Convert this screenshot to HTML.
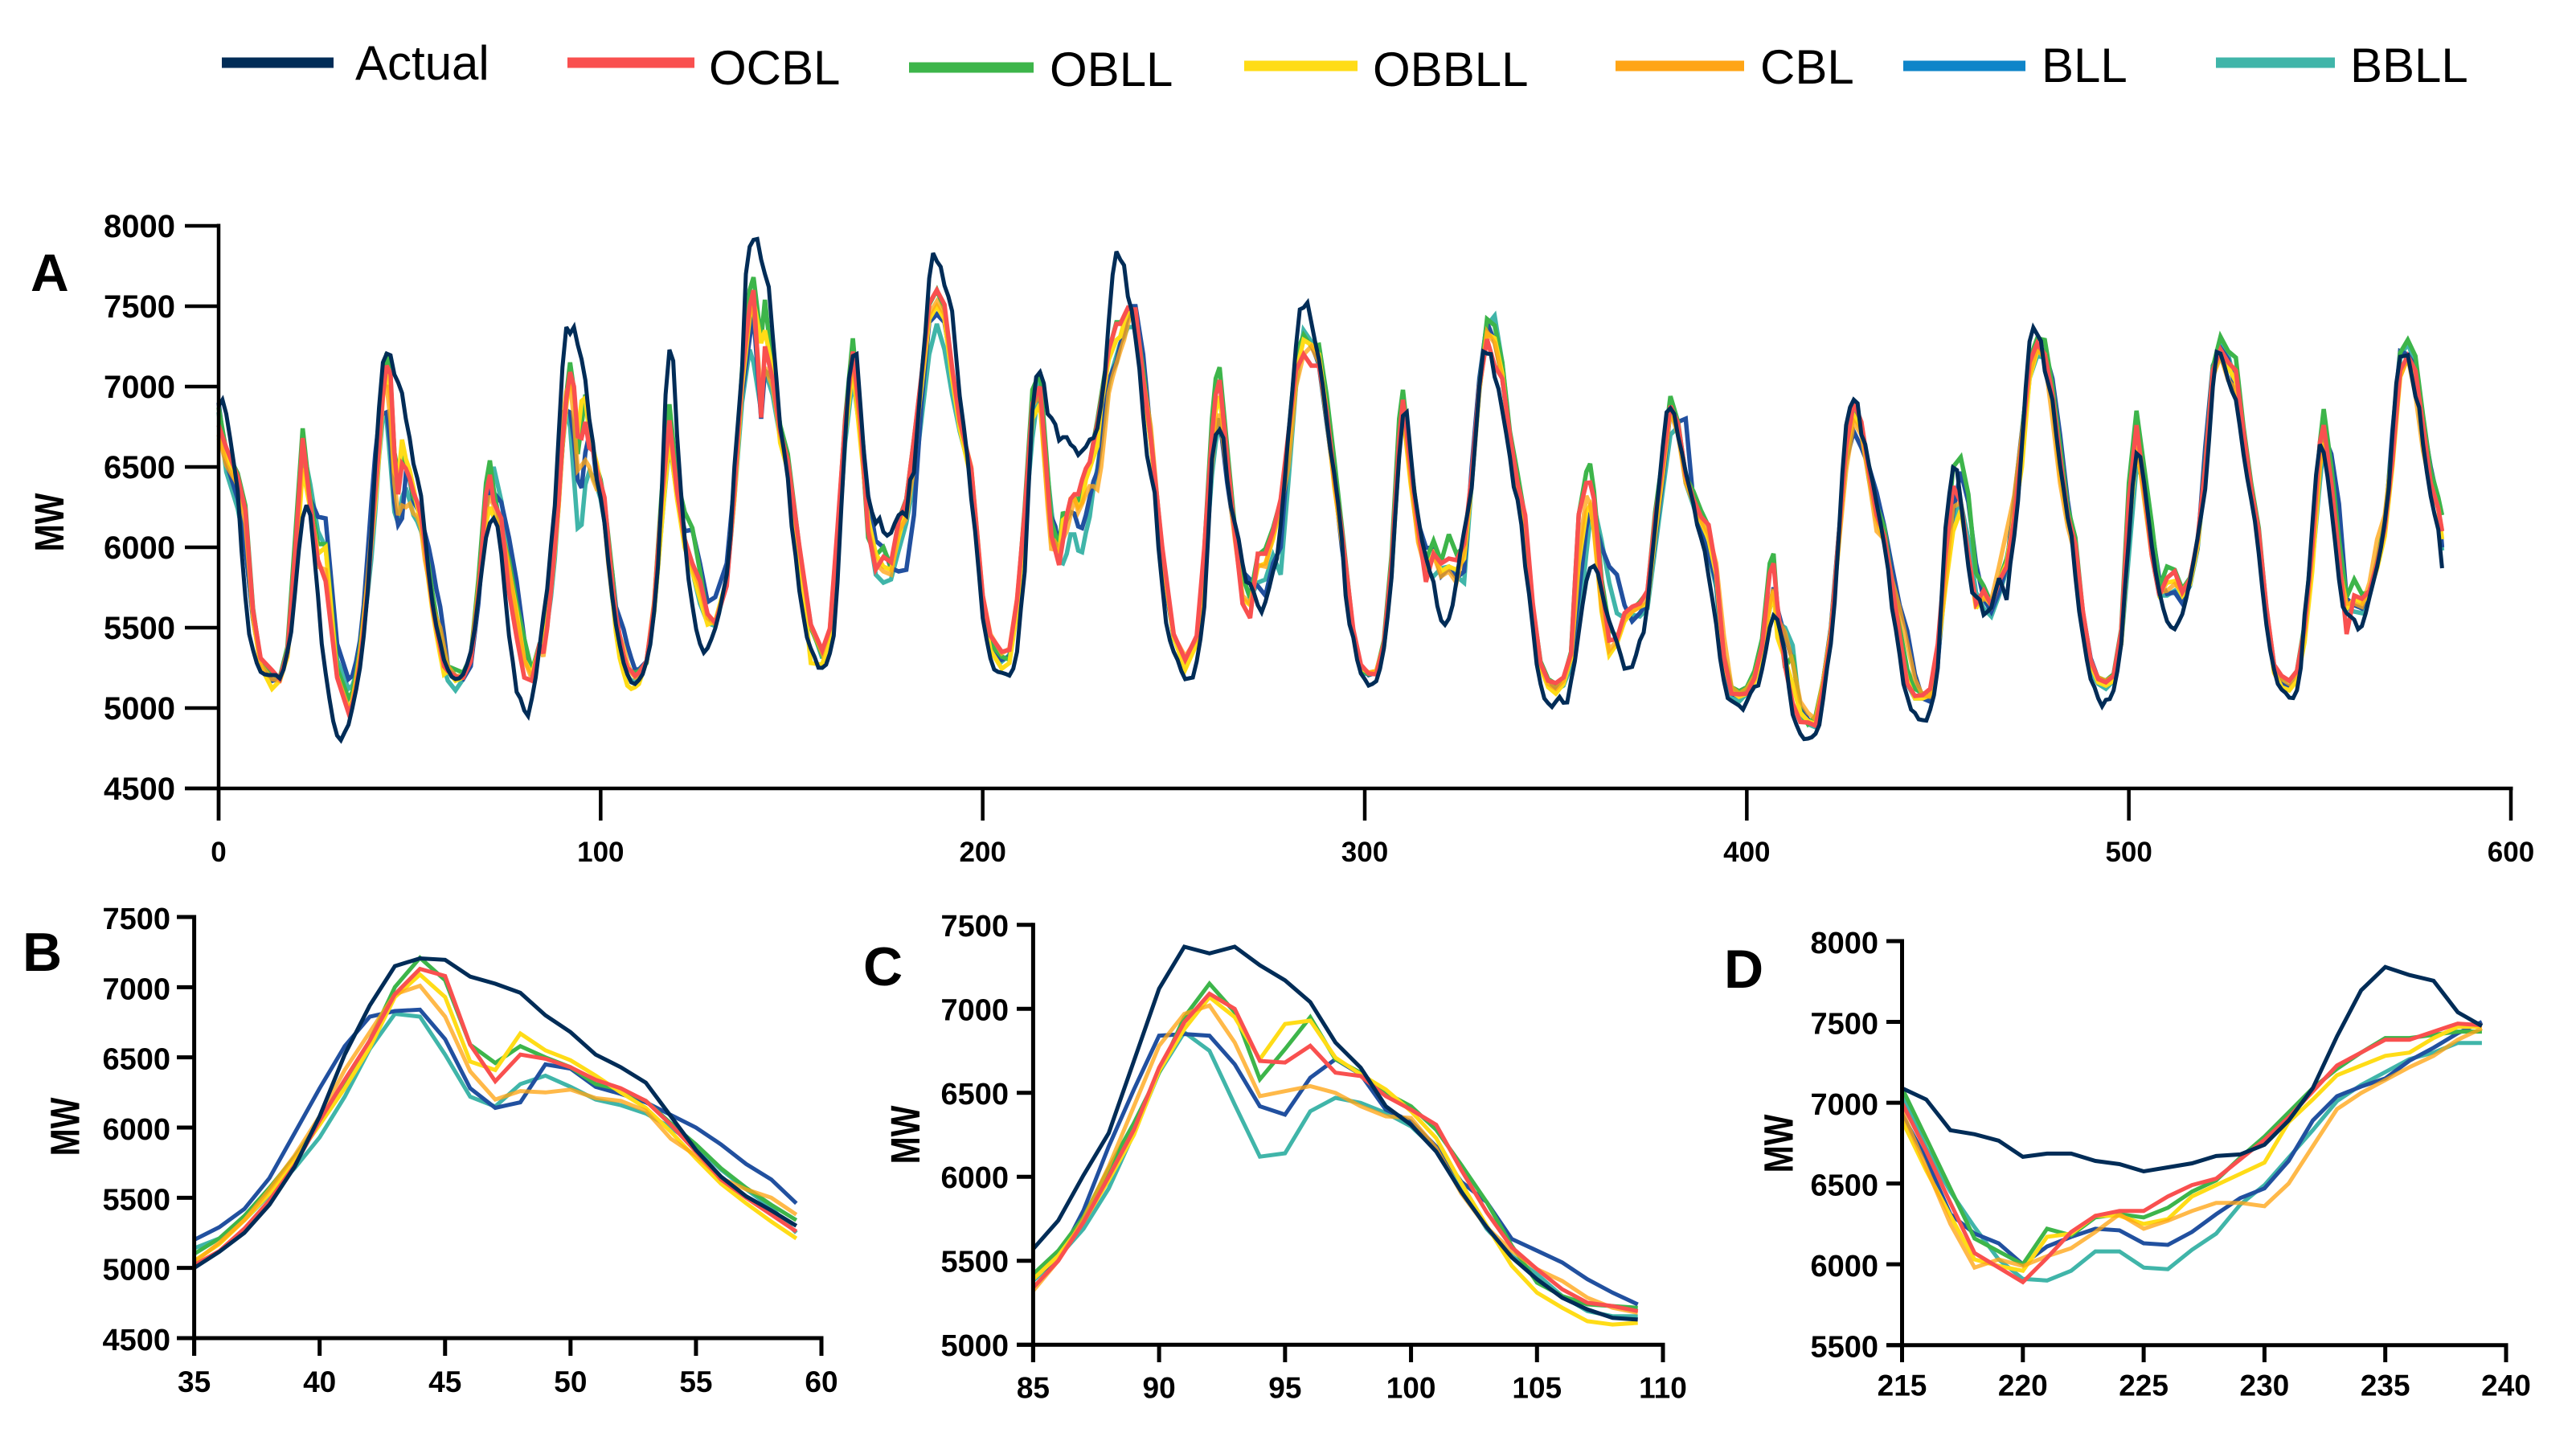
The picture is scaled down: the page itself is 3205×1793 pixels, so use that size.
<!DOCTYPE html>
<html lang="en">
<head>
<meta charset="utf-8">
<title>Load forecast comparison</title>
<style>
html,body{margin:0;padding:0;background:#fff;}
svg{display:block;font-family:"Liberation Sans",sans-serif;}
</style>
</head>
<body>
<svg id="chart" xmlns="http://www.w3.org/2000/svg" width="3205" height="1793" viewBox="0 0 3205 1793">
<rect x="0" y="0" width="3205" height="1793" fill="#ffffff"/>
<g>
<rect x="276" y="71.5" width="139" height="13" fill="#002c57"/>
<text x="442" y="99" font-size="60" fill="#000">Actual</text>
<rect x="706" y="71.5" width="158" height="13" fill="#f9504f"/>
<text x="882" y="105" font-size="60" fill="#000">OCBL</text>
<rect x="1131" y="77.5" width="155" height="13" fill="#3db54a"/>
<text x="1306" y="107" font-size="60" fill="#000">OBLL</text>
<rect x="1548" y="75.5" width="141" height="13" fill="#ffdc17"/>
<text x="1708" y="107" font-size="60" fill="#000">OBBLL</text>
<rect x="2010" y="75.5" width="160" height="13" fill="#ffa516"/>
<text x="2190" y="104" font-size="60" fill="#000">CBL</text>
<rect x="2368" y="75.5" width="152" height="13" fill="#0f85c9"/>
<text x="2540" y="102" font-size="60" fill="#000">BLL</text>
<rect x="2757" y="71.5" width="148" height="13" fill="#40b5a9"/>
<text x="2924" y="102" font-size="60" fill="#000">BBLL</text>
</g>
<text x="38" y="362" font-size="66" font-weight="bold" fill="#000">A</text>
<text x="28" y="1208" font-size="68" font-weight="bold" fill="#000">B</text>
<text x="1074" y="1226" font-size="68" font-weight="bold" fill="#000">C</text>
<text x="2145" y="1229" font-size="68" font-weight="bold" fill="#000">D</text>
</svg>
<script>
// ---------- Panel B values (index 35-59) ----------
const actualB=[5000,5115,5250,5450,5720,6080,6520,6870,7150,7205,7195,7075,7025,6960,6800,6680,6520,6430,6320,6080,5840,5650,5510,5410,5300];
const redB=[5020,5120,5280,5480,5730,6050,6340,6620,6950,7130,7080,6590,6330,6520,6490,6430,6340,6280,6190,6020,5830,5630,5500,5380,5260];
const greenB=[5100,5210,5370,5570,5790,6040,6310,6620,7000,7210,7050,6590,6460,6580,6500,6430,6310,6270,6190,6030,5880,5710,5570,5450,5340];
const yellowB=[5050,5170,5340,5530,5770,6020,6280,6570,6930,7090,6930,6470,6410,6670,6550,6480,6370,6250,6140,5970,5780,5600,5460,5330,5210];
const orangeB=[5040,5180,5340,5560,5800,6080,6410,6680,6950,7010,6790,6400,6200,6260,6250,6270,6210,6190,6120,5920,5800,5640,5560,5500,5380];
const blueB=[5200,5290,5420,5640,5960,6280,6580,6790,6830,6840,6630,6280,6140,6180,6450,6420,6290,6240,6180,6090,6000,5880,5740,5630,5460];
const tealB=[5140,5210,5340,5520,5710,5930,6220,6560,6810,6790,6520,6220,6150,6310,6370,6290,6200,6160,6100,6000,5870,5700,5560,5430,5250];
// ---------- Panel C values (index 85-109) ----------
const actualC=[5570,5740,6010,6260,6690,7120,7370,7330,7370,7260,7170,7040,6800,6650,6420,6310,6150,5910,5700,5520,5390,5280,5210,5160,5150];
const redC=[5340,5500,5730,6000,6280,6650,6920,7090,7000,6690,6680,6780,6620,6600,6480,6400,6310,6040,5790,5580,5450,5330,5250,5230,5200];
const greenC=[5420,5560,5760,6050,6320,6620,6950,7150,6980,6580,6760,6950,6700,6620,6500,6420,6280,6070,5850,5590,5370,5290,5240,5230,5220];
const yellowC=[5390,5530,5730,5980,6250,6630,6880,7070,6950,6700,6910,6930,6710,6610,6520,6390,6230,5960,5710,5470,5310,5220,5140,5120,5130];
const orangeC=[5320,5500,5750,6060,6420,6780,6970,7020,6800,6480,6510,6540,6500,6420,6360,6350,6170,5900,5700,5560,5450,5380,5280,5220,5190];
const blueC=[5400,5510,5800,6180,6520,6840,6850,6840,6670,6420,6370,6590,6700,6610,6400,6330,6180,5970,5850,5630,5560,5490,5390,5310,5240];
const tealC=[5380,5520,5690,5930,6260,6620,6860,6750,6430,6120,6140,6390,6470,6440,6380,6300,6160,5930,5690,5530,5420,5290,5200,5170,5170];
// ---------- Panel D values (index 215-239) ----------
const actualD=[7090,7020,6830,6805,6765,6665,6685,6685,6640,6620,6575,6600,6625,6670,6680,6740,6890,7090,7410,7695,7840,7790,7755,7560,7475];
const redD=[7000,6700,6380,6070,5980,5890,6040,6200,6300,6330,6330,6420,6490,6530,6650,6770,6910,7070,7230,7310,7390,7390,7440,7490,7480];
const greenD=[7090,6780,6470,6160,6080,6000,6220,6180,6290,6310,6290,6350,6450,6520,6660,6790,6940,7090,7210,7310,7400,7400,7420,7440,7440];
const yellowD=[6890,6580,6300,6030,5990,5960,6170,6190,6300,6300,6250,6280,6420,6490,6560,6630,6880,7020,7170,7230,7290,7310,7400,7470,7470];
const orangeD=[6950,6600,6250,5980,6030,5990,6050,6100,6200,6310,6220,6270,6330,6380,6380,6360,6500,6730,6960,7060,7140,7220,7290,7390,7460];
const blueD=[6930,6650,6310,6190,6130,6000,6110,6170,6220,6210,6130,6120,6200,6310,6410,6470,6640,6890,7040,7100,7150,7260,7340,7430,7500];
const tealD=[7050,6720,6450,6230,6030,5910,5900,5960,6080,6080,5980,5970,6090,6190,6370,6490,6660,6830,7010,7110,7190,7270,7310,7370,7370];
// ---------- Panel A: actual, hourly, outside the zoomed windows ----------
const actualA0=[6880,6918,6830,6680,6520,6350,5980,5690,5460,5362,5280,5225,5210,5205,5205,5205,5185,5240,5350,5473,5720,5980,6185,6262,6200,5960,5700,5400,5220,5060,4918,4829,4800,4850,4896];
const actualA1=[5240,5195,5180,5185,5210,5270,5350,5490,5680,5880,6060,6150,6180,6130,5960,5700,5450,5290,5100,5060,4985,4951,5060,5190,5380];
const actualA2=[5175,5211,5290,5396,5600,5880,6350,6950,7229,7160,6700,6350,6050,5800,5640,5490,5400,5345,5373,5430,5496,5590,5710,5830,6080,6500,6800,7100,7700,7870,7913,7918,7790,7700,7620,7330,7050,6750,6600,6430,6130,5950,5730,5580,5440,5370,5318,5251,5250,5270,5340,5450,5780,6250,6673,7050,7190,7202,6880,6560,6318,6220,6150,6180,6096,6073,6090,6150,6200,6218,6196,6420,6465,6780,7073,7340,7673,7830,7780,7745,7629,7562,7470,7200,6940,6760,6560,6300,6100,5840,5560,5430,5310,5240,5225,5220,5212,5202,5245,5350,5620,5850,6360,6850,7060];
const actualA3=[7300,7110,6820,6570,6451,6340,6000,5760,5530,5420,5350,5300,5230,5180,5185,5190,5290,5430,5629,6060,6550,6700,6730,6680,6420,6251,6150,6050,5900,5785,5773,5715,5640,5596,5660,5750,5850,5930,6140,6400,6700,6960,7250,7480,7491,7522,7400,7280,7170,7010,6800,6610,6460,6280,6051,5700,5520,5440,5300,5215,5180,5140,5150,5167,5245,5370,5570,5810,6200,6562,6818,6840,6590,6345,6190,6040,5940,5850,5785,5635,5545,5518,5555,5640,5790,5960,6100,6225,6370,6680,7000,7218,7205,7202,7060,6985,6850,6710,6562,6375,6296,6140,5880,5710,5500,5273,5150,5060,5030,5007,5040,5069,5033,5035,5170,5290,5470,5640,5790,5870,5884,5840,5730,5620,5540,5473,5410,5330,5245,5250,5256,5330,5420,5470,5640,5890,6130,6380,6629,6840,6865,6830,6690,6590,6470,6370,6273,6140,6060,5975,5820,5673,5520,5310,5170,5062,5045,5030,5015,4991,5040,5095,5132,5140,5240,5362,5500,5575,5550,5450,5345,5130,4960,4896,4840,4807,4810,4818,4840,4895,5060,5250,5400,5660,6040,6460,6760,6870,6918,6896,6700,6640,6510,6400,6270,6150,6010,5860,5620,5490,5330,5150,5070,4990,4970,4930,4925,4922,4990,5080,5250,5700,6120,6330,6496,6480,6290,6080,5880,5718,5695,5673,5580,5600,5625,5720,5807,5750,5673,5900,6070,6290,6630,6990,7280,7367,7325,7284,7096,7010,6918,6700,6510,6350,6184,6070,5820,5600,5450,5300,5180,5130,5060,5011,5051,5056,5110,5230,5400,5750,6051,6384,6584,6562,6400,6210,6010,5850,5720,5620,5540,5505,5491,5535,5584,5680,5790,5920,6060,6210,6362,6670,7000,7215,7205,7130,7040,6970,6918,6760,6580,6430,6300,6162,5960,5730,5518,5360,5240,5150,5115,5095,5065,5062,5110,5250,5580,5800,6130,6450,6640,6590,6440,6240,6030,5800,5630,5590,5570,5550,5491,5510,5590,5690,5785,5880,6000,6160,6360,6700,7020,7185,7190,7196,7073,6940,6870,6640,6470,6318,6207,6110,5870];
// ---------- Panel A: forecast sample indices outside the zoomed windows ----------
const indexA0=[0,2,5,7,9,11,14,16,18,20,22,24,26,28,31,34];
const indexA1=[60,62,64,66,68,70,71,72,74,76,78,80,82,84];
const indexA2=[110,112,114,116,118,120,122,124,126,128,130,133,135,137,139,140,142,143,145,147,149,152,155,158,160,162,164,166,168,170,172,174,176,178,180,182,184,186,188,190,192,194,197,200,202,205,207,209,211,213];
const indexA3=[240,242,244,247,250,253,256,258,260,261,262,264,266,268,270,272,274,276,278,280,282,284,286,288,290,292,294,
297,299,301,303,305,307,309,310,312,314,316,318,320,322,324,326,328,330,332,334,336,338,340,342,344,
346,348,350,352,354,356,358,359,360,362,364,366,368,370,372,374,376,378,380,382,384,386,388,390,392,394,
396,398,400,402,404,406,407,408,410,412,414,416,418,420,422,424,426,428,430,432,434,436,438,440,442,444,446,448,450,
452,454,456,458,460,462,464,466,468,470,472,474,476,478,480,482,484,486,488,490,492,494,496,498,
500,502,504,506,508,510,512,514,516,518,520,522,524,526,528,530,532,534,536,538,540,542,544,546,548,
550,551,553,555,557,559,561,563,565,567,569,571,573,575,577,579,581,582];
// ---------- Panel A: OCBL ----------
const redA0=[6760,6620,6440,6230,5607,5310,5235,5180,5350,5960,6680,6260,5920,5790,5190,4970];
const redA1=[5230,5195,5190,5290,5700,6330,6451,6280,6180,5720,5440,5190,5170,5400];
const redA2=[5220,5290,5640,6300,6790,6350,6050,5900,5790,5585,5530,5760,6340,7070,7500,7600,6807,7250,7050,6720,6540,6010,5520,5360,5495,6120,6785,7218,6785,6100,5862,5940,5907,6162,6296,6673,7073,7518,7600,7510,7118,6785,6490,5700,5450,5350,5362,5674,6229,6896];
const redA3=[7480,7050,6680,6000,5460,5300,5450,6000,6700,6950,7040,6560,6080,5650,5560,5960,5960,6100,6300,6700,7100,7200,7130,7130,6850,6450,6100,
5490,5270,5215,5210,5400,5900,6680,6918,6500,6120,5785,5960,5900,5930,5920,6020,6450,7000,7295,7130,7050,6700,6400,6200,5650,
5280,5170,5155,5190,5340,6205,6400,6403,6300,5760,5420,5430,5590,5630,5650,5730,6190,6520,6880,6770,6450,6300,6190,6140,5860,5320,
5090,5085,5090,5185,5385,5840,5900,5640,5260,5030,4913,4910,4890,5130,5450,6050,6620,6900,6780,6470,6200,6070,5780,5450,5150,5075,5080,5120,5400,
5950,6380,6280,5950,5650,5730,5640,5790,5880,6180,6650,7150,7270,7200,6950,6560,6200,6020,5600,5300,5180,5160,5200,5480,
6300,6760,6380,5950,5700,5810,5850,5720,5800,6050,6500,7100,7230,7150,7100,6720,6370,6100,5630,5270,5200,5170,5230,5500,6000,
6650,6760,6400,5950,5460,5700,5680,5730,5900,6120,6540,7100,7190,7100,6760,6400,6240,6100];
// ---------- Panel A: OBLL ----------
const greenA0=[6870,6600,6460,6260,5620,5290,5210,5190,5380,6050,6740,6300,6020,6020,5250,5060];
const greenA1=[5260,5240,5220,5320,5800,6400,6540,6360,6100,5920,5650,5430,5230,5400];
const greenA2=[5230,5280,5650,6350,6890,6420,6220,6120,5850,5560,5520,5790,6330,7100,7600,7680,7290,7540,7100,6760,6580,6000,5500,5330,5470,6080,6800,7300,6760,6060,5950,6000,5880,6170,6300,6670,7060,7510,7600,7480,7100,6770,6490,5680,5400,5320,5300,5640,6250,6980];
const greenA3=[7440,7100,6700,5980,5430,5290,5400,5980,6800,7050,7120,6620,6120,5820,5690,5950,5990,6120,6290,6680,7200,7320,7250,7260,6950,6550,6130,
5470,5240,5210,5220,5420,5950,6800,6980,6540,6150,5920,6040,5910,6080,5960,6000,6430,7000,7420,7380,7150,6720,6460,6180,5630,
5290,5180,5150,5180,5350,6200,6470,6520,6350,5800,5500,5440,5540,5610,5660,5720,6220,6560,6940,6780,6440,6350,6230,6130,5840,5330,
5130,5105,5130,5230,5430,5900,5960,5620,5250,5330,4980,4900,4950,5170,5480,6050,6550,6840,6740,6500,6260,6120,5780,5500,5240,5120,5090,5080,5330,
5960,6500,6560,6330,5840,5760,5650,5790,5930,6170,6700,7170,7300,7290,7000,6630,6250,6060,5590,5260,5190,5170,5210,5490,
6400,6850,6500,6150,5750,5880,5860,5740,5810,6020,6520,7120,7310,7220,7180,6750,6400,6120,5620,5270,5190,5170,5230,5520,6050,
6650,6860,6500,6050,5690,5800,5710,5720,5920,6160,6650,7210,7290,7190,6820,6480,6310,6200];
// ---------- Panel A: OBBLL ----------
const yellowA0=[6680,6560,6380,6200,5560,5260,5120,5170,5320,5800,6490,6240,5960,6000,5200,4980];
const yellowA1=[5230,5170,5190,5300,5700,6150,6250,6190,6100,5860,5600,5300,5210,5390];
const yellowA2=[5150,5290,5600,6150,6680,6300,6000,5850,5680,5520,5540,5800,6300,7000,7430,7540,7270,7350,7100,6650,6480,5950,5280,5270,5440,6000,6700,7120,6650,6180,5960,5880,5860,6060,6240,6600,7000,7420,7500,7420,7050,6740,6420,5620,5360,5245,5280,5600,6180,6800];
const yellowA3=[7470,7020,6650,5950,5440,5240,5400,5900,6600,6850,6940,6540,6070,5680,5640,5880,5900,6050,6260,6620,7080,7290,7260,7200,6850,6380,6050,
5460,5250,5220,5230,5380,5850,6600,6840,6400,6050,5860,5960,5850,5880,5860,5930,6400,6980,7330,7300,7080,6650,6370,6150,5600,
5250,5130,5090,5150,5310,5900,6220,6260,6100,5600,5330,5400,5540,5600,5630,5650,6080,6460,6860,6720,6420,6280,6160,6050,5830,5290,
5100,5070,5090,5160,5340,5620,5730,5440,5300,5150,4970,4920,4900,5150,5480,6000,6600,6820,6730,6440,6170,6030,5720,5400,5170,5060,5060,5080,5350,
5750,6100,6230,5950,5620,5700,5640,5790,5900,6200,6500,7050,7220,7200,6900,6450,6170,6000,5580,5270,5160,5140,5170,5400,
6100,6620,6330,5950,5710,5780,5790,5700,5770,6010,6470,7080,7200,7120,7030,6640,6330,6060,5590,5220,5130,5110,5170,5410,5850,
6500,6650,6350,5900,5620,5680,5650,5720,5870,6070,6500,7060,7180,7090,6650,6400,6240,6050];
// ---------- Panel A: CBL ----------
const orangeA0=[6700,6510,6390,6150,5570,5270,5180,5170,5330,5900,6600,6280,5880,5860,5200,5000];
const orangeA1=[5260,5200,5200,5310,5750,6230,6320,6260,6130,5870,5560,5300,5180,5380];
const orangeA2=[5200,5290,5660,6300,6760,6350,6050,5880,5750,5560,5520,5790,6350,7050,7450,7500,6950,7120,7000,6700,6500,5980,5510,5340,5490,6100,6750,7180,6720,6120,5900,5850,5830,6100,6180,6500,7050,7450,7530,7450,7100,6780,6500,5700,5460,5340,5370,5680,6200,6880];
const orangeA3=[7420,7050,6750,5950,5450,5320,5430,5900,6520,6740,6830,6450,6050,5700,5650,5890,5880,6080,6240,6500,7000,7200,7250,7150,6800,6400,6030,
5480,5260,5220,5230,5400,5880,6650,6840,6430,6030,5850,5950,5820,5850,5780,5980,6410,7000,7340,7270,7050,6680,6380,6150,5620,
5270,5150,5120,5170,5330,5950,6320,6270,6120,5620,5360,5420,5560,5600,5630,5680,6120,6480,6850,6700,6400,6280,6170,6080,5900,5450,
5130,5090,5120,5200,5380,5650,5740,5560,5470,5280,5040,4970,4930,5170,5480,6000,6480,6780,6700,6420,6100,6050,5800,5620,5400,5180,5080,5070,5350,
5800,6250,6280,5950,5640,5680,5670,5880,6100,6320,6700,7080,7240,7170,6800,6400,6130,5950,5580,5280,5190,5170,5200,5450,
6180,6650,6300,5950,5720,5730,5770,5730,5800,6040,6480,7060,7190,7040,6980,6620,6340,6070,5600,5250,5180,5150,5210,5470,5960,
6500,6680,6330,5880,5650,5650,5630,5780,6050,6200,6600,7060,7180,6950,6600,6380,6240,6100];
// ---------- Panel A: BLL ----------
const blueA0=[6900,6530,6300,6000,5550,5290,5170,5180,5330,5900,6580,6300,6190,6180,5400,5180];
const blueA1=[5260,5200,5180,5260,5650,6240,6400,6340,6280,6060,5790,5430,5200,5380];
const blueA2=[5240,5290,5620,6300,6650,6350,6100,6110,5900,5660,5690,5900,6400,6950,7300,7450,6800,7100,7050,6700,6480,5990,5500,5340,5480,6000,6750,7170,6800,6320,6040,6000,5870,5850,5860,6200,6900,7400,7450,7400,7100,6760,6480,5650,5400,5300,5320,5640,6150,6900];
const blueA3=[7500,7200,6700,5870,5450,5250,5420,5900,6550,6750,6800,6400,6080,5850,5800,5760,5700,5900,6000,6600,7150,7300,7260,7140,6780,6430,6000,
5480,5260,5205,5220,5400,5900,6680,6850,6520,6150,6000,5990,5820,5870,5810,5850,6500,7050,7400,7280,7050,6660,6380,6120,5600,
5270,5160,5120,5160,5300,5700,6120,6230,6180,6000,5880,5830,5640,5540,5590,5660,6050,6420,6850,6780,6800,6290,6100,5960,5780,5280,
5090,5070,5110,5180,5350,5620,5750,5620,5440,5300,5010,4930,4890,5170,5500,6060,6540,6720,6620,6500,6340,6130,5880,5640,5480,5210,5060,5040,5280,
5870,6220,6470,6280,5900,5680,5600,5720,5880,6300,6720,7120,7240,7220,7050,6700,6290,5980,5590,5310,5180,5170,5210,5400,
6100,6620,6450,6120,5800,5710,5720,5650,5770,6000,6620,7130,7240,7170,6970,6650,6330,6060,5560,5250,5150,5130,5170,5420,6020,
6500,6700,6580,6270,5680,5640,5620,5720,5880,6100,6720,7220,7200,7120,6780,6500,6280,6000];
// ---------- Panel A: BBLL ----------
const tealA0=[6840,6470,6240,6000,5550,5290,5170,5190,5340,5950,6630,6390,6100,6000,5300,5120];
const tealA1=[5170,5110,5180,5300,5730,6250,6380,6500,6290,5980,5700,5420,5210,5390];
const tealA2=[5220,5280,5600,6150,6650,6320,6050,5850,5650,5530,5510,5780,6300,6900,7230,7150,6850,7100,6950,6680,6480,5980,5520,5310,5480,5950,6650,7050,6700,6130,5830,5780,5800,5980,6150,6400,6800,7200,7390,7230,6950,6720,6450,5660,5410,5290,5330,5620,6150,6680];
const tealA3=[7370,7020,6650,5950,5450,5290,5400,5830,6450,6650,6780,6450,6100,5820,5680,5780,5800,5950,5830,6400,7000,7350,7280,7130,6780,6420,6020,
5450,5220,5210,5220,5380,5830,6600,6850,6420,6080,5840,5820,5870,5880,5820,5780,6400,6970,7380,7440,7150,6700,6380,6110,5600,
5260,5150,5110,5140,5260,5500,5960,6170,6260,6040,5780,5590,5560,5580,5570,5620,5990,6350,6700,6750,6400,6260,6100,5960,5750,5210,
5060,5040,5090,5170,5350,5620,5700,5530,5500,5390,4960,4900,4880,5170,5480,6020,6590,6820,6730,6420,6180,6110,5760,5440,5150,5060,5060,5060,5300,
5780,6180,6280,6050,5720,5620,5570,5700,5860,6120,6550,7050,7190,7180,6950,6600,6200,5980,5550,5230,5150,5120,5170,5400,
5950,6500,6420,5950,5700,5700,5730,5670,5760,5990,6470,7100,7290,7200,7000,6680,6340,6060,5580,5230,5170,5130,5190,5450,5890,
6400,6640,6500,6150,5620,5600,5590,5720,5880,6100,6600,7180,7270,7140,6700,6450,6260,5980];
// ---------- Axis ticks ----------
const ticksXA=[0,100,200,300,400,500,600];
const ticksYA=[4500,5000,5500,6000,6500,7000,7500,8000];
const ticksXB=[35,40,45,50,55,60];
const ticksYB=[4500,5000,5500,6000,6500,7000,7500];
const ticksXC=[85,90,95,100,105,110];
const ticksYC=[5000,5500,6000,6500,7000,7500];
const ticksXD=[215,220,225,230,235,240];
const ticksYD=[5500,6000,6500,7000,7500,8000];

const NS='http://www.w3.org/2000/svg';
const svg=document.getElementById('chart');

function range(start,count){
  const out=[];
  for(let k=0;k<count;k++){out.push(start+k);}
  return out;
}
function linear(d0,d1,r0,r1){
  return function(v){return r0+(v-d0)*(r1-r0)/(d1-d0);};
}

const indexB=range(35,actualB.length);
const indexC=range(85,actualC.length);
const indexD=range(215,actualD.length);
const forecastIndexA=[].concat(indexA0,indexB,indexA1,indexC,indexA2,indexD,indexA3);
const actualA=[].concat(actualA0,actualB,actualA1,actualC,actualA2,actualD,actualA3);
const actualIndexA=range(0,actualA.length);
const redA=[].concat(redA0,redB,redA1,redC,redA2,redD,redA3);
const greenA=[].concat(greenA0,greenB,greenA1,greenC,greenA2,greenD,greenA3);
const yellowA=[].concat(yellowA0,yellowB,yellowA1,yellowC,yellowA2,yellowD,yellowA3);
const orangeA=[].concat(orangeA0,orangeB,orangeA1,orangeC,orangeA2,orangeD,orangeA3);
const blueA=[].concat(blueA0,blueB,blueA1,blueC,blueA2,blueD,blueA3);
const tealA=[].concat(tealA0,tealB,tealA1,tealC,tealA2,tealD,tealA3);

function drawLine(parent,x1,y1,x2,y2,name,width){
  const el=document.createElementNS(NS,'line');
  el.setAttribute('x1',x1);
  el.setAttribute('y1',y1);
  el.setAttribute('x2',x2);
  el.setAttribute('y2',y2);
  el.setAttribute('stroke','#000');
  el.setAttribute('stroke-width',width);
  
  
  parent.appendChild(el);
}
function drawText(parent,x,y,str,size,anchor,name){
  const el=document.createElementNS(NS,'text');
  el.setAttribute('x',x);
  el.setAttribute('y',y);
  el.setAttribute('font-size',size);
  el.setAttribute('font-weight','bold');
  el.setAttribute('text-anchor',anchor);
  el.setAttribute('fill','#000');
  el.textContent=str;
  
  
  parent.appendChild(el);
}
function drawSeries(parent,xs,ys,sx,sy,color,width,opacity,name){
  const pts=[];
  for(let k=0;k<xs.length;k++){
    pts.push(sx(xs[k]).toFixed(1)+','+sy(ys[k]).toFixed(1));
  }
  const el=document.createElementNS(NS,'polyline');
  el.setAttribute('points',pts.join(' '));
  el.setAttribute('fill','none');
  el.setAttribute('stroke',color);
  el.setAttribute('stroke-width',width);
  el.setAttribute('stroke-opacity',opacity);
  el.setAttribute('stroke-linejoin','miter');
  el.setAttribute('stroke-miterlimit','3');
  
  
  parent.appendChild(el);
}
function drawPanel(p){
  const g=document.createElementNS(NS,'g');
  
  
  svg.appendChild(g);
  const sx=linear(p.xDomain[0],p.xDomain[1],p.xRange[0],p.xRange[1]);
  const sy=linear(p.yDomain[0],p.yDomain[1],p.yRange[0],p.yRange[1]);
  for(let k=0;k<p.series.length;k++){
    const s=p.series[k];
    drawSeries(g,s.x,s.y,sx,sy,s.color,k===p.series.length-1?p.actualWidth:p.lineWidth,s.opacity,'series-'+s.name+'-panel-'+p.id);
  }
  const x0=p.xRange[0],y0=p.yRange[0];
  drawLine(g,x0,p.yRange[1]-2.5,x0,p.tickBottom,'y-axis-line-'+p.id,p.axisWidth);
  drawLine(g,p.tickLeft,y0,p.xRange[1]+2.5,y0,'x-axis-line-'+p.id,p.axisWidth);
  p.yTicks.forEach(function(v){
    const y=sy(v);
    drawLine(g,p.tickLeft,y,x0,y,'y-tick-'+p.id+'-'+v,p.axisWidth);
    drawText(g,p.yLabelRight,y+p.yLabelDy,String(v),p.yFont,'end','y-tick-label-'+p.id+'-'+v);
  });
  p.xTicks.forEach(function(v){
    const x=sx(v);
    drawLine(g,x,y0,x,p.tickBottom,'x-tick-'+p.id+'-'+v,p.axisWidth);
    drawText(g,x,p.xLabelBaseline,String(v),p.xFont,'middle','x-tick-label-'+p.id+'-'+v);
  });
  const t=document.createElementNS(NS,'text');
  t.setAttribute('transform','translate('+p.mw[0]+','+p.mw[1]+') rotate(-90) scale(1,1.25)');
  t.setAttribute('x',0);
  t.setAttribute('y',11.3);
  t.setAttribute('font-size',41);
  t.setAttribute('font-weight','bold');
  t.setAttribute('text-anchor','middle');
  t.setAttribute('fill','#000');
  t.textContent='MW';
  
  
  g.appendChild(t);
}
function seriesList(ix,ax,a,r,gr,y,o,b,t){
  return [
    {name:'bbll',x:ix,y:t,color:'#40b5a9',opacity:1},
    {name:'bll',x:ix,y:b,color:'#21509f',opacity:1},
    {name:'obll',x:ix,y:gr,color:'#3db54a',opacity:1},
    {name:'obbll',x:ix,y:y,color:'#ffdc17',opacity:1},
    {name:'cbl',x:ix,y:o,color:'#ffa516',opacity:0.78},
    {name:'ocbl',x:ix,y:r,color:'#f9504f',opacity:1},
    {name:'actual',x:ax,y:a,color:'#002c57',opacity:1}
  ];
}
drawPanel({id:'a',xDomain:[0,600],xRange:[272,3124],yDomain:[4500,8000],yRange:[981,281],
  xTicks:ticksXA,yTicks:ticksYA,tickLeft:230,tickBottom:1021,axisWidth:4.5,lineWidth:5.5,actualWidth:5,
  yLabelRight:218,yLabelDy:14,yFont:40,xLabelBaseline:1072,xFont:35,mw:[65,650],
  series:seriesList(forecastIndexA,actualIndexA,actualA,redA,greenA,yellowA,orangeA,blueA,tealA)});
drawPanel({id:'b',xDomain:[35,60],xRange:[241.6,1022],yDomain:[4500,7500],yRange:[1665,1141],
  xTicks:ticksXB,yTicks:ticksYB,tickLeft:220,tickBottom:1687,axisWidth:5,lineWidth:5,actualWidth:5,
  yLabelRight:212,yLabelDy:15,yFont:38,xLabelBaseline:1732,xFont:37,mw:[84.5,1402],
  series:seriesList(indexB,indexB,actualB,redB,greenB,yellowB,orangeB,blueB,tealB)});
drawPanel({id:'c',xDomain:[85,110],xRange:[1285.4,2069],yDomain:[5000,7500],yRange:[1673.2,1150.8],
  xTicks:ticksXC,yTicks:ticksYC,tickLeft:1265,tickBottom:1695,axisWidth:5,lineWidth:5,actualWidth:5,
  yLabelRight:1255,yLabelDy:14,yFont:38,xLabelBaseline:1739.5,xFont:37,mw:[1130,1412],
  series:seriesList(indexC,indexC,actualC,redC,greenC,yellowC,orangeC,blueC,tealC)});
drawPanel({id:'d',xDomain:[215,240],xRange:[2366.5,3118],yDomain:[5500,8000],yRange:[1673.7,1171],
  xTicks:ticksXD,yTicks:ticksYD,tickLeft:2347,tickBottom:1695,axisWidth:5,lineWidth:5,actualWidth:5,
  yLabelRight:2337,yLabelDy:15,yFont:38,xLabelBaseline:1736.5,xFont:37,mw:[2216.5,1423],
  series:seriesList(indexD,indexD,actualD,redD,greenD,yellowD,orangeD,blueD,tealD)});
</script>
</body>
</html>
